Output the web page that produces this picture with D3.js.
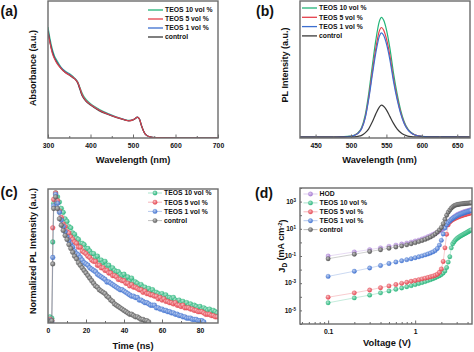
<!DOCTYPE html>
<html>
<head>
<meta charset="utf-8">
<script src="https://cdnjs.cloudflare.com/ajax/libs/d3/7.8.5/d3.min.js"></script>
<style>
  body { margin: 0; background: #fff; }
  svg { display: block; font-family: "Liberation Sans", Arial, sans-serif; font-weight: bold; }
</style>
</head>
<body>
<svg id="chart" width="474" height="352"></svg>
<script>
// ---- series names / colours
const seriesNames = ['TEOS 10 vol %', 'TEOS 5 vol %', 'TEOS 1 vol %', 'control'];
const seriesColors = ['#22b478', '#e5404b', '#3c6fd0', '#3a3a3a'];

// ---- (a) absorbance
const absWavelength = [300, 305, 310, 315, 320, 330, 340, 350, 360, 365, 370, 375, 380, 385, 390, 400, 420, 440, 460, 480, 490, 500, 505, 510, 515, 520, 525, 530, 540, 550, 600, 700];
const absTeos10 = [0.81, 0.72, 0.65, 0.60, 0.57, 0.52, 0.49, 0.47, 0.445, 0.43, 0.41, 0.37, 0.33, 0.30, 0.28, 0.25, 0.21, 0.18, 0.155, 0.135, 0.128, 0.133, 0.143, 0.152, 0.14, 0.09, 0.05, 0.025, 0.008, 0.003, 0, 0];
const absTeos5 = [0.77, 0.69, 0.62, 0.58, 0.55, 0.51, 0.48, 0.46, 0.44, 0.425, 0.405, 0.365, 0.32, 0.29, 0.27, 0.245, 0.205, 0.175, 0.152, 0.133, 0.126, 0.132, 0.142, 0.152, 0.14, 0.09, 0.05, 0.025, 0.008, 0.003, 0, 0];
const absTeos1 = [0.79, 0.70, 0.635, 0.59, 0.56, 0.515, 0.485, 0.465, 0.44, 0.428, 0.405, 0.36, 0.315, 0.29, 0.27, 0.245, 0.205, 0.176, 0.153, 0.134, 0.127, 0.133, 0.142, 0.152, 0.14, 0.09, 0.05, 0.025, 0.008, 0.003, 0, 0];
const absControl = [0.78, 0.695, 0.63, 0.585, 0.555, 0.51, 0.48, 0.46, 0.437, 0.425, 0.40, 0.355, 0.31, 0.285, 0.265, 0.24, 0.2, 0.173, 0.15, 0.132, 0.125, 0.131, 0.141, 0.151, 0.139, 0.089, 0.05, 0.025, 0.008, 0.003, 0, 0];
const absTicks = [300, 400, 500, 600, 700];

// ---- (b) PL
const plWavelength = [428, 480, 500, 505, 510, 515, 520, 525, 530, 535, 540, 543, 546, 550, 555, 560, 565, 570, 575, 580, 585, 590, 600, 610, 668];
const plTeos10 = [0, 0, 0.006, 0.015, 0.032, 0.07, 0.16, 0.32, 0.52, 0.71, 0.85, 0.88, 0.86, 0.79, 0.65, 0.47, 0.32, 0.2, 0.115, 0.062, 0.033, 0.017, 0.005, 0.001, 0];
const plTeos5 = [0, 0, 0.005, 0.013, 0.028, 0.063, 0.145, 0.29, 0.475, 0.65, 0.78, 0.805, 0.787, 0.723, 0.595, 0.43, 0.293, 0.183, 0.105, 0.057, 0.03, 0.016, 0.005, 0.001, 0];
const plTeos1 = [0, 0, 0.005, 0.012, 0.027, 0.06, 0.138, 0.278, 0.452, 0.618, 0.74, 0.766, 0.748, 0.687, 0.566, 0.409, 0.278, 0.174, 0.1, 0.054, 0.029, 0.015, 0.004, 0.001, 0];
const plControl = [0, 0, 0, 0.001, 0.005, 0.012, 0.03, 0.06, 0.11, 0.17, 0.22, 0.234, 0.226, 0.2, 0.15, 0.1, 0.06, 0.033, 0.016, 0.007, 0.003, 0.001, 0, 0, 0];
const plTicks = [450, 500, 550, 600, 650];

// ---- (c) TRPL decay: rise points, then one point per ns from 4 ns
const riseTimes = [0, 1, 2, 2.5, 3];
const decayStart = 4;
const riseTeos10 = [0.03, 0.04, 0.03, 0.62, 0.92];
const riseTeos5 = [0.01, 0.02, 0.01, 0.73, 0.95];
const riseTeos1 = [0.0, 0.01, 0.0, 0.5, 0.9];
const riseControl = [0.01, 0.0, 0.01, 0.45, 0.88];
const decayTeos10 = [
  1.00, 0.97, 0.93, 0.88, 0.85, 0.80, 0.78, 0.74, 0.73, 0.69,
  0.68, 0.65, 0.64, 0.61, 0.61, 0.60, 0.57, 0.57, 0.55, 0.53,
  0.53, 0.50, 0.51, 0.48, 0.48, 0.46, 0.47, 0.44, 0.44, 0.41,
  0.42, 0.40, 0.39, 0.39, 0.37, 0.36, 0.37, 0.34, 0.35, 0.32,
  0.34, 0.31, 0.31, 0.30, 0.28, 0.29, 0.27, 0.27, 0.25, 0.26,
  0.24, 0.25, 0.23, 0.23, 0.22, 0.21, 0.22, 0.20, 0.21, 0.19,
  0.19, 0.18, 0.19, 0.17, 0.16, 0.17, 0.15, 0.16, 0.14, 0.15,
  0.13, 0.14, 0.12, 0.13, 0.12, 0.11, 0.12, 0.10, 0.11, 0.10,
  0.09, 0.10, 0.08, 0.09, 0.08, 0.07];
const decayTeos5 = [
  1.00, 0.94, 0.86, 0.81, 0.76, 0.74, 0.70, 0.69, 0.66, 0.64,
  0.62, 0.61, 0.58, 0.58, 0.55, 0.54, 0.53, 0.51, 0.50, 0.48,
  0.47, 0.47, 0.44, 0.44, 0.42, 0.42, 0.40, 0.40, 0.38, 0.38,
  0.36, 0.36, 0.35, 0.33, 0.33, 0.32, 0.32, 0.30, 0.30, 0.28,
  0.29, 0.27, 0.27, 0.26, 0.25, 0.25, 0.23, 0.24, 0.22, 0.22,
  0.21, 0.21, 0.20, 0.20, 0.18, 0.19, 0.17, 0.18, 0.16, 0.16,
  0.15, 0.15, 0.14, 0.15, 0.13, 0.13, 0.12, 0.13, 0.11, 0.11,
  0.11, 0.10, 0.10, 0.09, 0.09, 0.08, 0.08, 0.08, 0.07, 0.06,
  0.06, 0.06, 0.05, 0.05, 0.04, 0.04];
const decayTeos1 = [
  0.99, 0.92, 0.85, 0.79, 0.74, 0.70, 0.66, 0.63, 0.60, 0.58,
  0.55, 0.53, 0.52, 0.50, 0.48, 0.46, 0.45, 0.44, 0.42, 0.41,
  0.40, 0.39, 0.37, 0.36, 0.35, 0.34, 0.33, 0.31, 0.31, 0.30,
  0.29, 0.28, 0.27, 0.26, 0.25, 0.25, 0.24, 0.23, 0.22, 0.21,
  0.20, 0.20, 0.19, 0.19, 0.17, 0.17, 0.16, 0.15, 0.15, 0.14,
  0.13, 0.13, 0.13, 0.11, 0.11, 0.10, 0.10, 0.09, 0.09, 0.08,
  0.08, 0.07, 0.07, 0.06, 0.06, 0.05, 0.05, 0.04, 0.04, 0.03,
  0.03, 0.03, 0.02, 0.02, 0.02, 0.01, 0.01, 0.01, 0.00];
const decayControl = [
  0.97, 0.88, 0.80, 0.75, 0.71, 0.67, 0.64, 0.60, 0.57, 0.54,
  0.51, 0.49, 0.46, 0.44, 0.42, 0.40, 0.38, 0.36, 0.34, 0.32,
  0.30, 0.28, 0.27, 0.25, 0.24, 0.23, 0.22, 0.20, 0.19, 0.17,
  0.16, 0.14, 0.13, 0.12, 0.11, 0.10, 0.09, 0.08, 0.07, 0.06,
  0.06, 0.05, 0.04, 0.04, 0.03, 0.02, 0.02, 0.01, 0.01, 0.00];
const timeTicks = [0, 20, 40, 60, 80];

// ---- (d) J-V, log10 of J (mA cm^-2) at 0.1 V steps
const voltage = [0.1, 0.2, 0.3, 0.4, 0.5, 0.6, 0.7, 0.8, 0.9, 1.0, 1.1, 1.2, 1.3, 1.4, 1.5, 1.6, 1.7, 1.8, 1.9, 2.0, 2.1, 2.2, 2.3, 2.4, 2.5, 2.6, 2.7, 2.8, 2.9, 3.0, 3.1, 3.2, 3.3, 3.4, 3.5, 3.6, 3.7, 3.8, 3.9, 4.0, 4.1, 4.2, 4.3, 4.4];
const jvNames = ['HOD', 'TEOS 10 vol %', 'TEOS 5 vol %', 'TEOS 1 vol %', 'control'];
const jvColors = ['#a477d2', '#22b478', '#e5404b', '#3c6fd0', '#505050'];
const logJHod = [-1.0, -0.7, -0.53, -0.4, -0.29, -0.2, -0.12, -0.05, 0.02, 0.1, 0.17, 0.25, 0.33, 0.42, 0.5, 0.58, 0.66, 0.74, 0.83, 0.92, 1.02, 1.12, 1.28, 1.45, 1.58, 1.7, 1.8, 1.88, 1.95, 2.01, 2.06, 2.1, 2.14, 2.17, 2.2, 2.23, 2.25, 2.28, 2.3, 2.32, 2.34, 2.36, 2.38, 2.4];
const logJTeos10 = [-4.44, -4.08, -3.88, -3.71, -3.57, -3.45, -3.35, -3.26, -3.18, -3.1, -3.02, -2.95, -2.88, -2.81, -2.74, -2.67, -2.6, -2.52, -2.45, -2.36, -2.25, -2.1, -1.85, -1.45, -1.05, -0.4, -0.1, 0.05, 0.17, 0.27, 0.34, 0.4, 0.46, 0.51, 0.55, 0.6, 0.64, 0.68, 0.72, 0.76, 0.8, 0.84, 0.88, 0.92];
const logJTeos5 = [-4.03, -3.71, -3.5, -3.33, -3.2, -3.1, -3.01, -2.93, -2.86, -2.8, -2.74, -2.68, -2.63, -2.58, -2.53, -2.48, -2.42, -2.34, -2.2, -1.95, -1.4, -0.4, 0.6, 1.3, 1.5, 1.6, 1.67, 1.73, 1.78, 1.82, 1.86, 1.9, 1.93, 1.96, 1.99, 2.01, 2.04, 2.06, 2.08, 2.1, 2.12, 2.14, 2.16, 2.18];
const logJTeos1 = [-2.5, -2.12, -1.88, -1.7, -1.55, -1.44, -1.35, -1.27, -1.2, -1.13, -1.06, -0.99, -0.92, -0.85, -0.78, -0.7, -0.6, -0.45, -0.2, 0.15, 0.62, 1.05, 1.3, 1.46, 1.58, 1.68, 1.76, 1.83, 1.89, 1.94, 1.99, 2.03, 2.07, 2.1, 2.13, 2.16, 2.19, 2.21, 2.24, 2.26, 2.28, 2.3, 2.32, 2.34];
const logJControl = [-1.2, -0.87, -0.67, -0.54, -0.43, -0.34, -0.26, -0.18, -0.1, -0.02, 0.06, 0.14, 0.22, 0.31, 0.4, 0.5, 0.62, 0.76, 0.92, 1.1, 1.38, 1.7, 2.0, 2.22, 2.38, 2.52, 2.62, 2.69, 2.74, 2.77, 2.79, 2.81, 2.82, 2.83, 2.84, 2.85, 2.86, 2.87, 2.88, 2.88, 2.89, 2.9, 2.9, 2.91];
const jvExponentTicks = [3, 1, -1, -3, -5];

// ---------------------------------------------------------------
const svg = d3.select('#chart');
const defs = svg.append('defs');
const FRAME_COLOR = '#6b6b6b';
const TEXT_COLOR = '#111';

const BOX = {
  a: { left: 48, right: 218, top: 1, bottom: 138 },
  b: { left: 300, right: 470, top: 1, bottom: 138 },
  c: { left: 48, right: 218, top: 189, bottom: 323 },
  d: { left: 300, right: 472, top: 188, bottom: 324 },
};

const addClip = (id, box) =>
  defs.append('clipPath').attr('id', id)
    .append('rect')
    .attr('x', box.left).attr('y', box.top)
    .attr('width', box.right - box.left).attr('height', box.bottom - box.top);

const drawFrame = (box) =>
  svg.append('rect')
    .attr('x', box.left).attr('y', box.top)
    .attr('width', box.right - box.left).attr('height', box.bottom - box.top)
    .attr('fill', 'none')
    .attr('stroke', FRAME_COLOR)
    .attr('stroke-width', 1.4);

const drawBottomAxis = (box, x, major, minor, format) => {
  svg.append('g')
    .attr('transform', `translate(0, ${box.bottom})`)
    .call(d3.axisBottom(x).tickValues(minor).tickSize(-2).tickFormat(''))
    .call((g) => g.select('.domain').remove())
    .selectAll('line').attr('stroke', FRAME_COLOR);

  svg.append('g')
    .attr('transform', `translate(0, ${box.bottom})`)
    .call(d3.axisBottom(x).tickValues(major).tickSize(-3.5).tickPadding(5.5).tickFormat(format))
    .call((g) => g.select('.domain').remove())
    .call((g) => g.selectAll('line').attr('stroke', FRAME_COLOR))
    .selectAll('text')
    .attr('fill', TEXT_COLOR)
    .style('font-size', '6.8px');
};

const addText = (x, y, text, size, anchor = 'middle') =>
  svg.append('text')
    .attr('x', x).attr('y', y)
    .attr('fill', TEXT_COLOR)
    .attr('text-anchor', anchor)
    .style('font-size', `${size}px`)
    .text(text);

const addYTitle = (x, y, text) =>
  svg.append('text')
    .attr('transform', `translate(${x}, ${y}) rotate(-90)`)
    .attr('dy', '0.35em')
    .attr('fill', TEXT_COLOR)
    .attr('text-anchor', 'middle')
    .style('font-size', '9px')
    .text(text);

const makeBall = (id, color) => {
  const grad = defs.append('radialGradient')
    .attr('id', id).attr('cx', '38%').attr('cy', '35%').attr('r', '70%');
  grad.append('stop').attr('offset', '0%').attr('stop-color', d3.interpolateRgb(color, '#fff')(0.65));
  grad.append('stop').attr('offset', '100%').attr('stop-color', color);
  return `url(#${id})`;
};

const drawLineLegend = (x, y0, step, names, colors) =>
  names.forEach((name, i) => {
    const y = y0 + i * step;
    svg.append('line')
      .attr('x1', x).attr('x2', x + 15).attr('y1', y).attr('y2', y)
      .attr('stroke', colors[i]).attr('stroke-width', 1.3);
    addText(x + 17, y, name, 6.8, 'start').attr('dy', '0.35em');
  });

const drawDotLegend = (x, y0, step, names, colors, fills) =>
  names.forEach((name, i) => {
    const y = y0 + i * step;
    svg.append('line')
      .attr('x1', x - 7).attr('x2', x + 7).attr('y1', y).attr('y2', y)
      .attr('stroke', colors[i]).attr('stroke-opacity', 0.55).attr('stroke-width', 0.7);
    svg.append('circle')
      .attr('cx', x).attr('cy', y).attr('r', 2.2)
      .attr('fill', fills[i]).attr('stroke', colors[i]).attr('stroke-width', 0.3);
    addText(x + 9, y, name, 6.8, 'start').attr('dy', '0.35em');
  });

// ---------------------------------------------------------------
// (a) Absorbance
const drawAbsorbance = () => {
  const box = BOX.a;
  const x = d3.scaleLinear([300, 700], [box.left, box.right]);
  const y = d3.scaleLinear([0, 1], [box.bottom, box.top]);
  addClip('clipA', box);
  const line = d3.line().x((d) => x(d[0])).y((d) => y(d[1])).curve(d3.curveMonotoneX);
  const series = [absTeos10, absTeos1, absControl, absTeos5];
  const colors = [seriesColors[0], seriesColors[2], seriesColors[3], seriesColors[1]];
  const plot = svg.append('g').attr('clip-path', 'url(#clipA)');
  series.forEach((values, i) => {
    plot.append('path')
      .datum(d3.zip(absWavelength, values))
      .attr('fill', 'none')
      .attr('stroke', colors[i])
      .attr('stroke-width', 1.2)
      .attr('stroke-opacity', 0.9)
      .attr('d', line);
  });
  drawFrame(box);
  drawBottomAxis(box, x, absTicks, d3.range(350, 700, 100), d3.format('d'));
  drawLineLegend(148, 10, 9, seriesNames, seriesColors);
  addText(133, 163, 'Wavelength (nm)', 9.3);
  addYTitle(32.5, 68, 'Absorbance (a.u.)');
  addText(0.5, 16, '(a)', 14, 'start');
};

// (b) PL
const drawPL = () => {
  const box = BOX.b;
  const x = d3.scaleLinear([428, 668], [box.left, box.right]);
  const y = d3.scaleLinear([0, 1], [137, box.top]);
  addClip('clipB', box);
  const line = d3.line().x((d) => x(d[0])).y((d) => y(d[1])).curve(d3.curveMonotoneX);
  const series = [plTeos10, plTeos5, plTeos1, plControl];
  const plot = svg.append('g').attr('clip-path', 'url(#clipB)');
  series.forEach((values, i) => {
    plot.append('path')
      .datum(d3.zip(plWavelength, values))
      .attr('fill', 'none')
      .attr('stroke', seriesColors[i])
      .attr('stroke-width', 1.2)
      .attr('d', line);
  });
  drawFrame(box);
  drawBottomAxis(box, x, plTicks, [475, 525, 575, 625], d3.format('d'));
  drawLineLegend(302, 8, 9.3, seriesNames, seriesColors);
  addText(379.5, 163, 'Wavelength (nm)', 9.3);
  addYTitle(284.5, 65, 'PL Intensity (a.u.)');
  addText(256, 16, '(b)', 14, 'start');
};

// (c) TRPL
const drawDecay = () => {
  const box = BOX.c;
  const x = d3.scaleLinear([0, 90], [box.left, box.left + 171]);
  const y = d3.scaleLinear([0, 1], [322, 193]);
  addClip('clipC', box);
  const rises = [riseTeos10, riseTeos5, riseTeos1, riseControl];
  const decays = [decayTeos10, decayTeos5, decayTeos1, decayControl];
  const dotColors = [seriesColors[0], seriesColors[1], seriesColors[2], '#555555'];
  const fills = dotColors.map((c, i) => makeBall(`ballC${i}`, c));
  const line = d3.line().x((d) => x(d[0])).y((d) => y(d[1]));
  const plot = svg.append('g').attr('clip-path', 'url(#clipC)');
  rises.forEach((rise, i) => {
    const points = rise.map((v, k) => [riseTimes[k], v])
      .concat(decays[i].map((v, k) => [decayStart + k, v]));
    plot.append('path')
      .datum(points)
      .attr('fill', 'none')
      .attr('stroke', dotColors[i])
      .attr('stroke-opacity', 0.45)
      .attr('stroke-width', 0.6)
      .attr('d', line);
    plot.append('g')
      .selectAll('circle')
      .data(points)
      .join('circle')
      .attr('cx', (d) => x(d[0]))
      .attr('cy', (d) => y(d[1]))
      .attr('r', 2.4)
      .attr('fill', fills[i])
      .attr('stroke', dotColors[i])
      .attr('stroke-width', 0.3);
  });
  drawFrame(box);
  drawBottomAxis(box, x, timeTicks, [10, 30, 50, 70], d3.format('d'));
  drawDotLegend(155, 193, 9.2, seriesNames, dotColors, fills);
  addText(133, 349, 'Time (ns)', 9.3);
  addYTitle(32.5, 251, 'Normalized PL Intensity (a.u.)');
  addText(0.5, 197, '(c)', 14, 'start');
};

// (d) J-V
const drawJV = () => {
  const box = BOX.d;
  const x = d3.scaleLog([0.0475, 4.5], [box.left, box.right]);
  const y = d3.scaleLog([1e-6, 1e4], [box.bottom, box.top]);
  addClip('clipD', box);
  const series = [logJHod, logJTeos10, logJTeos5, logJTeos1, logJControl];
  const fills = jvColors.map((c, i) => makeBall(`ballD${i}`, c));
  const line = d3.line().x((d) => x(d[0])).y((d) => y(d[1]));
  const plot = svg.append('g').attr('clip-path', 'url(#clipD)');
  series.forEach((values, i) => {
    const points = d3.zip(voltage, values.map((v) => 10 ** v));
    plot.append('path')
      .datum(points)
      .attr('fill', 'none')
      .attr('stroke', jvColors[i])
      .attr('stroke-opacity', 0.45)
      .attr('stroke-width', 0.6)
      .attr('d', line);
    plot.append('g')
      .selectAll('circle')
      .data(points)
      .join('circle')
      .attr('cx', (d) => x(d[0]))
      .attr('cy', (d) => y(d[1]))
      .attr('r', 2.2)
      .attr('fill', fills[i])
      .attr('stroke', jvColors[i])
      .attr('stroke-width', 0.3);
  });
  drawFrame(box);

  const minorX = [0.05, 0.06, 0.07, 0.08, 0.09, 0.2, 0.3, 0.4, 0.5, 0.6, 0.7, 0.8, 0.9, 2, 3, 4];
  drawBottomAxis(box, x, [0.1, 1], minorX, (d) => (d < 1 ? '0.1' : '1'));

  // left axis: every decade a small tick, labels every second decade
  svg.append('g')
    .attr('transform', `translate(${box.left}, 0)`)
    .call(d3.axisLeft(y).tickValues(d3.range(-6, 5).map((e) => 10 ** e)).tickSize(-2).tickFormat(''))
    .call((g) => g.select('.domain').remove())
    .selectAll('line').attr('stroke', FRAME_COLOR);
  jvExponentTicks.forEach((e) => {
    const t = svg.append('text')
      .attr('x', box.left - 4)
      .attr('y', y(10 ** e))
      .attr('dy', '0.35em')
      .attr('text-anchor', 'end')
      .attr('fill', TEXT_COLOR)
      .style('font-size', '6.5px');
    t.append('tspan').text('10');
    t.append('tspan').attr('dy', '-0.45em').style('font-size', '4.5px').text(e);
  });

  drawDotLegend(310.5, 194, 8.9, jvNames, jvColors, fills);
  addText(387, 346, 'Voltage (V)', 9.3);

  const yt = svg.append('text')
    .attr('transform', 'translate(282, 246) rotate(-90)')
    .attr('dy', '0.35em')
    .attr('fill', TEXT_COLOR)
    .attr('text-anchor', 'middle')
    .style('font-size', '9px');
  yt.append('tspan').text('J');
  yt.append('tspan').attr('dy', '0.3em').style('font-size', '6.5px').text('D');
  yt.append('tspan').attr('dy', '-0.3em').text(' (mA cm');
  yt.append('tspan').attr('dy', '-0.45em').style('font-size', '6px').text('-2');
  yt.append('tspan').attr('dy', '0.45em').text(')');
  addText(255, 198, '(d)', 14, 'start');
};

drawAbsorbance();
drawPL();
drawDecay();
drawJV();
</script>
</body>
</html>
